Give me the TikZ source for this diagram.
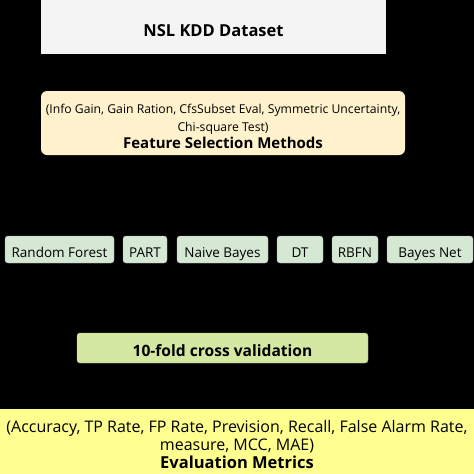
\documentclass[tikz,border=0pt]{standalone}
\usepackage{fontspec}
\setmainfont{Open Sans}
\definecolor{datagray}{HTML}{F4F4F4}
\definecolor{featcream}{HTML}{FFF2CC}
\definecolor{clsgreen}{HTML}{D5E8D4}
\definecolor{cvlime}{HTML}{D5E8A2}
\definecolor{evalyellow}{HTML}{FFFF8F}
\begin{document}
\begin{tikzpicture}[
    x=1pt, y=-1pt,
    box/.style={inner sep=0pt, align=center, text=black},
    classifier/.style={box, fill=clsgreen, draw=gray!60, rounded corners=3pt,
        minimum height=27pt, text height=15pt, text depth=0pt,
        font=\fontsize{13.5}{16}\selectfont}
    ]

    % background:
    \fill[black] (0,0) rectangle (474,474);

    % dataset:
    \node (data) at (213.5, 27) [box, fill=datagray, minimum width=345pt, minimum height=54pt,
        text height=18pt, text depth=0pt, font=\fontsize{16.5}{18}\bfseries] {NSL KDD Dataset};

    % feature selection:
    \node (fsm) at (223, 123) [box, fill=featcream, rounded corners=6pt, minimum width=364pt,
        minimum height=64pt, text height=52pt, text depth=1pt, font=\fontsize{12.2}{17.5}\selectfont]
        {(Info Gain, Gain Ration, CfsSubset Eval, Symmetric Uncertainty,\\
         Chi-square Test)\\ {\fontsize{15}{17.5}\bfseries Feature Selection Methods}};

    % classifiers:
    \node (rf) at (59.5, 249.5) [classifier, minimum width=109pt] {Random Forest};
    \node (part) at (145, 249.5) [classifier, minimum width=44pt] {PART};
    \node (nb) at (222.5, 249.5) [classifier, minimum width=91pt] {Naive Bayes};
    \node (dt) at (300, 249.5) [classifier, minimum width=46pt] {DT};
    \node (rbfn) at (355, 249.5) [classifier, minimum width=46pt] {RBFN};
    \node (bn) at (430, 249.5) [classifier, minimum width=86pt] {Bayes Net};

    % cross validation:
    \node (cv) at (222.5, 348) [box, fill=cvlime, draw=gray!60, rounded corners=3pt,
        minimum width=291pt, minimum height=30pt, text height=16pt, text depth=0pt,
        font=\fontsize{15.6}{18}\bfseries] {10-fold cross validation};

    % evaluation:
    \node (eval) at (237, 441.5) [box, fill=evalyellow, minimum width=474pt, minimum height=65pt,
        text height=55pt, text depth=1pt, font=\fontsize{16}{18}\selectfont]
        {(Accuracy, TP Rate, FP Rate, Prevision, Recall, False Alarm Rate,\\
         measure, MCC, MAE)\\ {\fontsize{16.5}{18}\bfseries Evaluation Metrics}};

  \end{tikzpicture}
\end{document}
